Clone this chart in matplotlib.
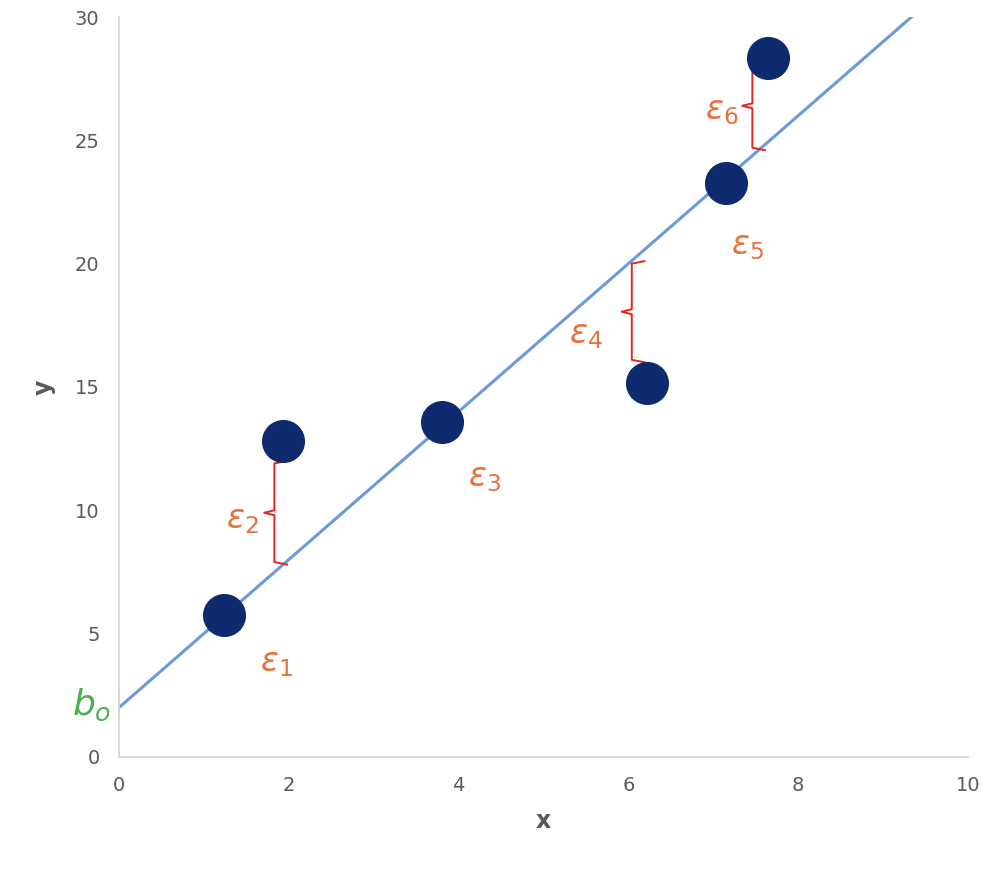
import matplotlib
matplotlib.use("Agg")
import matplotlib.pyplot as plt
import numpy as np

# data points
xs = [1.24, 1.93, 3.80, 6.22, 7.15, 7.64]
ys = [5.76, 12.8, 13.58, 15.16, 23.27, 28.33]
intercept, slope = 2.0, 3.0
line_x = [0.0, 9.34]

# residual braces: x position, y low, y high, label
brace_x = [1.83, 6.04, 7.46]
brace_lo = [7.8, 16.0, 24.6]
brace_hi = [12.0, 20.1, 28.2]

# residual labels: text position
eps_labels = ["1", "2", "3", "4", "5", "6"]
eps_x = [1.85, 1.45, 4.3, 5.5, 7.4, 7.1]
eps_y = [3.8, 9.6, 11.3, 17.1, 20.7, 26.2]

GRAY = "#8c8c8c"
ORANGE = "#E8703A"

fig = plt.figure(figsize=(10, 8.72), dpi=100)
ax = fig.add_axes([0.119, 0.132, 0.849, 0.8485])

lx = np.array(line_x)
ax.plot(lx, intercept + slope * lx, color="#6A9BD8", linewidth=2.2, zorder=2)
ax.scatter(xs, ys, s=900, color="#0D2A6E", zorder=3)

for bx, lo, hi in zip(brace_x, brace_lo, brace_hi):
    h = 0.15
    mid = (lo + hi) / 2
    ax.plot([bx + h, bx, bx, bx - h * 0.8, bx, bx, bx + h],
            [lo, lo + 0.1, mid - 0.1, mid, mid + 0.1, hi - 0.1, hi],
            color="#E8231E", linewidth=1.4, zorder=2)

for lab, tx, ty in zip(eps_labels, eps_x, eps_y):
    ax.text(tx, ty, r"$\varepsilon_{%s}$" % lab, color=ORANGE, fontsize=24,
            ha="center", va="center", family="DejaVu Serif")

ax.text(-0.55, 2.1, r"$b_o$", color="#4CAF50", fontsize=26, ha="left", va="center",
        clip_on=False)

ax.set_xlim(0, 10)
ax.set_ylim(0, 30)
ax.set_xticks([0, 2, 4, 6, 8, 10])
ax.set_yticks([0, 5, 10, 15, 20, 25, 30])
for s in ["top", "right"]:
    ax.spines[s].set_visible(False)
for s in ["left", "bottom"]:
    ax.spines[s].set_color("#d0d0d0")
    ax.spines[s].set_linewidth(1.2)
ax.tick_params(length=0, labelsize=14, colors="#595959", pad=14)
ax.set_xlabel("x", fontsize=17, fontweight="bold", color="#595959", labelpad=10)
ax.set_ylabel("y", fontsize=17, fontweight="bold", color="#595959", labelpad=14)

fig.savefig("out.png", dpi=100)
